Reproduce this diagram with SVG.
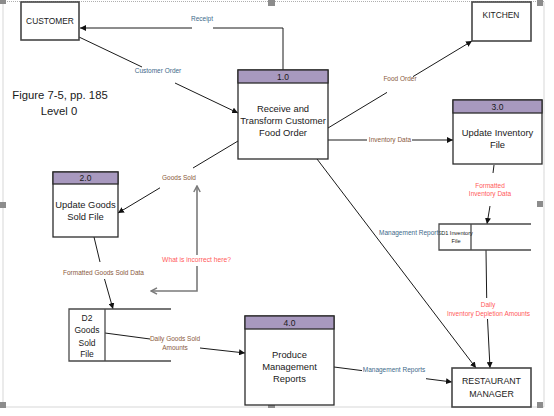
<svg xmlns="http://www.w3.org/2000/svg" width="554" height="416" viewBox="0 0 554 416">
<defs>
<marker id="ah" markerWidth="6" markerHeight="6" refX="6" refY="3" orient="auto" markerUnits="userSpaceOnUse">
<path d="M0,0 L6,3 L0,6 z" fill="#111"/>
</marker>
<marker id="oh" markerWidth="8" markerHeight="8" refX="7" refY="4" orient="auto" markerUnits="userSpaceOnUse">
<path d="M1,0.8 L7,4 L1,7.2" fill="none" stroke="#7a7a7a" stroke-width="1.5"/>
</marker>
<style>
.box{fill:#fff;stroke:#2b2b2b;stroke-width:1.3}
.ent{fill:#fff;stroke:#454545;stroke-width:1.6}
.hdr{fill:#A899BF;stroke:#2b2b2b;stroke-width:1.3}
.ds{stroke:#4a4a4a;stroke-width:1.3;fill:none}
.t{font-family:"Liberation Sans",Arial,sans-serif;fill:#1a1a1a;text-anchor:middle}
.pt{font-size:9.4px}
.ht{font-size:8.5px}
.et{font-size:8.4px}
.lb{font-family:"Liberation Sans",Arial,sans-serif;font-size:6.5px;text-anchor:middle}
.blue{fill:#3E6A8A}
.brown{fill:#8A5A40}
.red{fill:#FF5A5A}
.ln{stroke:#1a1a1a;stroke-width:1;fill:none}
.gl{stroke:#7a7a7a;stroke-width:1.6;fill:none}
.hd{fill:#8c8c8c}
</style>
</defs>

<g id="frame">
<rect x="3" y="1.5" width="541" height="405.5" fill="none" stroke="#9a9a9a" stroke-width="0.8" stroke-dasharray="1,1"/>
<rect class="hd" x="0" y="-2" width="6" height="6"/>
<rect class="hd" x="268" y="0" width="7" height="6"/>
<rect class="hd" x="537" y="0" width="6" height="6"/>
<rect class="hd" x="0" y="202" width="6" height="6"/>
<rect class="hd" x="537" y="201" width="6" height="6"/>
<rect class="hd" x="0" y="402" width="6" height="6"/>
<rect class="hd" x="268" y="402" width="7" height="6"/>
<rect class="hd" x="537" y="402" width="6" height="6"/>
</g>

<g id="title">
<text class="t" x="60" y="99" style="font-size:11.3px">Figure 7-5, pp. 185</text>
<text class="t" x="59" y="115" style="font-size:11.3px">Level 0</text>
</g>

<g id="connectors">
<!-- Receipt -->
<polyline class="ln" points="283,70 283,28 213,28"/>
<line class="ln" x1="192" y1="28" x2="80" y2="28" marker-end="url(#ah)"/>
<text class="lb blue" x="202" y="21">Receipt</text>
<!-- Customer Order -->
<line class="ln" x1="79" y1="37" x2="142" y2="67"/>
<line class="ln" x1="175" y1="83" x2="238" y2="113" marker-end="url(#ah)"/>
<text class="lb blue" x="158" y="73">Customer Order</text>
<!-- Food Order -->
<line class="ln" x1="328" y1="128" x2="387" y2="92.4"/>
<line class="ln" x1="413" y1="76.6" x2="472" y2="41" marker-end="url(#ah)"/>
<text class="lb brown" x="400" y="81">Food Order</text>
<!-- Inventory Data -->
<line class="ln" x1="328" y1="140" x2="367" y2="140"/>
<line class="ln" x1="412" y1="140" x2="453" y2="140" marker-end="url(#ah)"/>
<text class="lb brown" x="390" y="142.3">Inventory Data</text>
<!-- Goods Sold -->
<line class="ln" x1="238" y1="141" x2="193" y2="168"/>
<line class="ln" x1="160" y1="187.8" x2="118" y2="213" marker-end="url(#ah)"/>
<text class="lb brown" x="179" y="180">Goods Sold</text>
<!-- Formatted Goods Sold Data -->
<line class="ln" x1="94" y1="237" x2="100" y2="262"/>
<line class="ln" x1="104.5" y1="279" x2="113" y2="309" marker-end="url(#ah)"/>
<text class="lb brown" x="103.5" y="274.5">Formatted Goods Sold Data</text>
<!-- What is incorrect here? -->
<line class="gl" x1="197" y1="255" x2="197" y2="186" marker-end="url(#oh)"/>
<polyline class="gl" points="197,266 197,291 151,291" marker-end="url(#oh)"/>
<text class="lb red" x="196.5" y="262.3" style="font-size:6.7px">What is incorrect here?</text>
<!-- Formatted Inventory Data -->
<line class="ln" x1="494" y1="165" x2="493" y2="173"/>
<line class="ln" x1="490" y1="206" x2="487" y2="224" marker-end="url(#ah)"/>
<text class="lb red" x="490" y="188.3">Formatted</text>
<text class="lb red" x="490" y="196.3">Inventory Data</text>
<!-- Daily Inventory Depletion Amounts -->
<line class="ln" x1="486" y1="250" x2="486.7" y2="298"/>
<line class="ln" x1="487.5" y1="319" x2="490" y2="368" marker-end="url(#ah)"/>
<text class="lb red" x="488" y="307.3">Daily</text>
<text class="lb red" x="488.5" y="316.3">Inventory Depletion Amounts</text>
<!-- Management Reports 1.0 -> RM -->
<line class="ln" x1="317" y1="159" x2="476" y2="368" marker-end="url(#ah)"/>
<text class="lb blue" x="379" y="235.3" style="text-anchor:start">Management Reports</text>
<!-- Daily Goods Sold Amounts -->
<line class="ln" x1="105" y1="333" x2="150" y2="339"/>
<line class="ln" x1="200" y1="348" x2="245" y2="353" marker-end="url(#ah)"/>
<text class="lb brown" x="175" y="341.3">Daily Goods Sold</text>
<text class="lb brown" x="175" y="350.3">Amounts</text>
<!-- Management Reports 4.0 -> RM -->
<line class="ln" x1="334" y1="367" x2="362" y2="370.6"/>
<line class="ln" x1="426" y1="378.7" x2="452" y2="382" marker-end="url(#ah)"/>
<text class="lb blue" x="394" y="372.3">Management Reports</text>
</g>

<g id="customer">
<rect class="ent" x="21" y="2" width="58" height="38"/>
<text class="t et" x="50" y="24">CUSTOMER</text>
</g>

<g id="kitchen">
<rect class="ent" x="472" y="2" width="59" height="39"/>
<text class="t et" x="501" y="18">KITCHEN</text>
</g>

<g id="restaurant-manager">
<rect class="ent" x="452" y="368" width="79" height="39"/>
<text class="t et" x="491.5" y="384" style="font-size:8.8px">RESTAURANT</text>
<text class="t et" x="491.5" y="397" style="font-size:8.8px">MANAGER</text>
</g>

<g id="p1">
<rect class="box" x="238" y="70" width="90" height="89"/>
<rect class="hdr" x="238" y="70" width="90" height="13"/>
<text class="t ht" x="283" y="79.5">1.0</text>
<text class="t pt" x="283" y="112.3">Receive and</text>
<text class="t pt" x="283" y="124.3">Transform Customer</text>
<text class="t pt" x="283" y="136.3">Food Order</text>
</g>

<g id="p2">
<rect class="box" x="53" y="172" width="65" height="65"/>
<rect class="hdr" x="53" y="172" width="65" height="12"/>
<text class="t ht" x="85.5" y="181">2.0</text>
<text class="t pt" x="85.5" y="208.3">Update Goods</text>
<text class="t pt" x="85.5" y="220.3">Sold File</text>
</g>

<g id="p3">
<rect class="box" x="453" y="100" width="89" height="64"/>
<rect class="hdr" x="453" y="100" width="89" height="13"/>
<text class="t ht" x="497.5" y="109.5">3.0</text>
<text class="t pt" x="497.5" y="136.3">Update Inventory</text>
<text class="t pt" x="497.5" y="148.3">File</text>
</g>

<g id="p4">
<rect class="box" x="245" y="316" width="89" height="89"/>
<rect class="hdr" x="245" y="316" width="89" height="13"/>
<text class="t ht" x="289.5" y="325.5">4.0</text>
<text class="t pt" x="289.5" y="358.3">Produce</text>
<text class="t pt" x="289.5" y="370.3">Management</text>
<text class="t pt" x="289.5" y="382.3">Reports</text>
</g>

<g id="d2">
<path class="ds" d="M171,309 H69 V361 H171 M105,309 V361"/>
<text class="t" x="87" y="321" style="font-size:8.5px">D2</text>
<text class="t" x="87" y="333" style="font-size:8.5px">Goods</text>
<text class="t" x="87" y="346" style="font-size:8.5px">Sold</text>
<text class="t" x="87" y="357" style="font-size:8.5px">File</text>
</g>

<g id="d1">
<path class="ds" d="M531,224 H439 V250 H531 M471,224 V250"/>
<text class="t" x="457" y="235.3" style="font-size:5.6px">D1 Inventory</text>
<text class="t" x="456" y="242.5" style="font-size:5.6px">File</text>
</g>
</svg>
